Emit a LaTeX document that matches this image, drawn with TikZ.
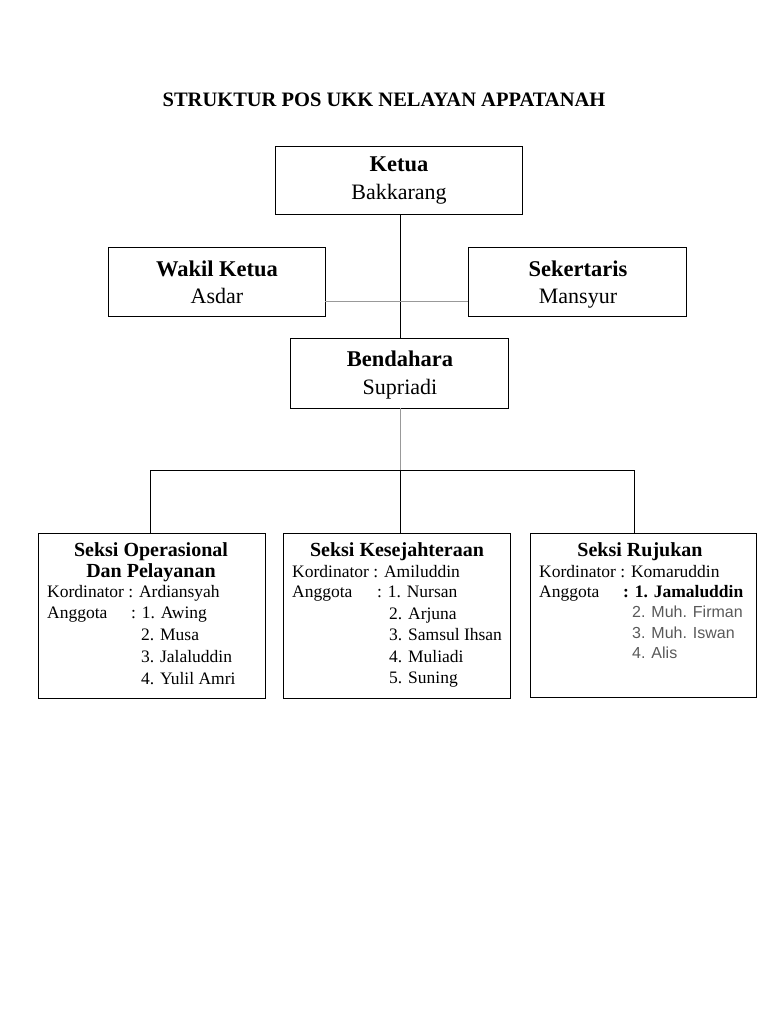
\documentclass[tikz,border=0pt]{standalone}
\usepackage{fontspec}
\setmainfont{Liberation Serif}
\newfontfamily\sansf{Liberation Sans}
\begin{document}
\begin{tikzpicture}[x=1pt,y=-1pt,
  box/.style={draw,line width=1pt},
  conn/.style={line width=0.8pt},
  gconn/.style={line width=0.8pt,draw=gray!80},
  t/.style={anchor=base west,inner sep=0,font=\fontsize{17.5}{17.5}\selectfont},
  tb/.style={anchor=base,inner sep=0,font=\fontsize{20}{20}\selectfont\bfseries},
  g/.style={anchor=base west,inner sep=0,font=\sansf\fontsize{16}{16}\selectfont,text=gray!70!black},
  hd/.style={anchor=base,inner sep=0,font=\fontsize{22.5}{22.5}\selectfont\bfseries},
  nm/.style={anchor=base,inner sep=0,font=\fontsize{22}{22}\selectfont}]
\useasboundingbox (0,0) rectangle (768,1024);
\node[anchor=base,font=\fontsize{20.5}{20.5}\selectfont\bfseries] (title) at (384,107) {STRUKTUR POS UKK NELAYAN APPATANAH};
% boxes
\draw[box] (275,147) rectangle (522,215);
\draw[box] (108,247) rectangle (325,316);
\draw[box] (468,247) rectangle (686,316);
\draw[box] (290,338) rectangle (508,408);
\draw[box] (38,533) rectangle (265,698);
\draw[box] (283,533) rectangle (510,698);
\draw[box] (530,533) rectangle (756,697);
% connectors
\coordinate (kb) at (400,215); \coordinate (bt) at (400,338);
\coordinate (wr) at (325,301); \coordinate (sl) at (468,301);
\coordinate (bb) at (400,408); \coordinate (j) at (400,470);
\coordinate (jl) at (150,470); \coordinate (jr) at (634,470);
\coordinate (dl) at (150,533); \coordinate (dm) at (400,533); \coordinate (dr) at (634,533);
\draw[conn] (kb) -- (bt);
\draw[gconn] (wr) -- (sl);
\draw[gconn] (bb) -- (j);
\draw[conn] (jl) -- (jr);
\draw[conn] (jl) -- (dl); \draw[conn] (j) -- (dm); \draw[conn] (jr) -- (dr);
% top texts
\node[hd] (k1) at (399,172) {Ketua};
\node[nm] (k2) at (399,200) {Bakkarang};
\node[hd] (w1) at (217,276) {Wakil Ketua};
\node[nm] (w2) at (217,303) {Asdar};
\node[hd] (s1) at (578,276) {Sekertaris};
\node[nm] (s2) at (578,303) {Mansyur};
\node[hd] (b1) at (400,366) {Bendahara};
\node[nm] (b2) at (400,394) {Supriadi};
% left box
\node[tb] (l1) at (151,556) {Seksi Operasional};
\node[tb] (l2) at (151,577) {Dan Pelayanan};
\node[t] (l3) at (47,597) {Kordinator : Ardiansyah};
\node[t] (l4) at (47,618) {Anggota};
\node[t] (l5) at (131,618) {: 1. Awing};
\node[t] (l6) at (141,640) {2. Musa};
\node[t] (l7) at (141,662) {3. Jalaluddin};
\node[t] (l8) at (141,684) {4. Yulil Amri};
% middle box
\node[tb] (m1) at (397,556) {Seksi Kesejahteraan};
\node[t] (m2) at (292,577) {Kordinator : Amiluddin};
\node[t] (m3) at (292,597) {Anggota};
\node[t] (m4) at (377,597) {: 1. Nursan};
\node[t] (m5) at (389,619) {2. Arjuna};
\node[t] (m6) at (389,640) {3. Samsul Ihsan};
\node[t] (m7) at (389,662) {4. Muliadi};
\node[t] (m8) at (389,683) {5. Suning};
% right box
\node[tb] (r1) at (640,556) {Seksi Rujukan};
\node[t] (r2) at (539,577) {Kordinator : Komaruddin};
\node[t] (r3) at (539,597) {Anggota};
\node[t,font=\fontsize{17.5}{17.5}\selectfont\bfseries] (r4) at (623,597) {: 1. Jamaluddin};
\node[g] (r5) at (632,617) {2. Muh. Firman};
\node[g] (r6) at (632,638) {3. Muh. Iswan};
\node[g] (r7) at (632,658) {4. Alis};
\end{tikzpicture}
\end{document}
